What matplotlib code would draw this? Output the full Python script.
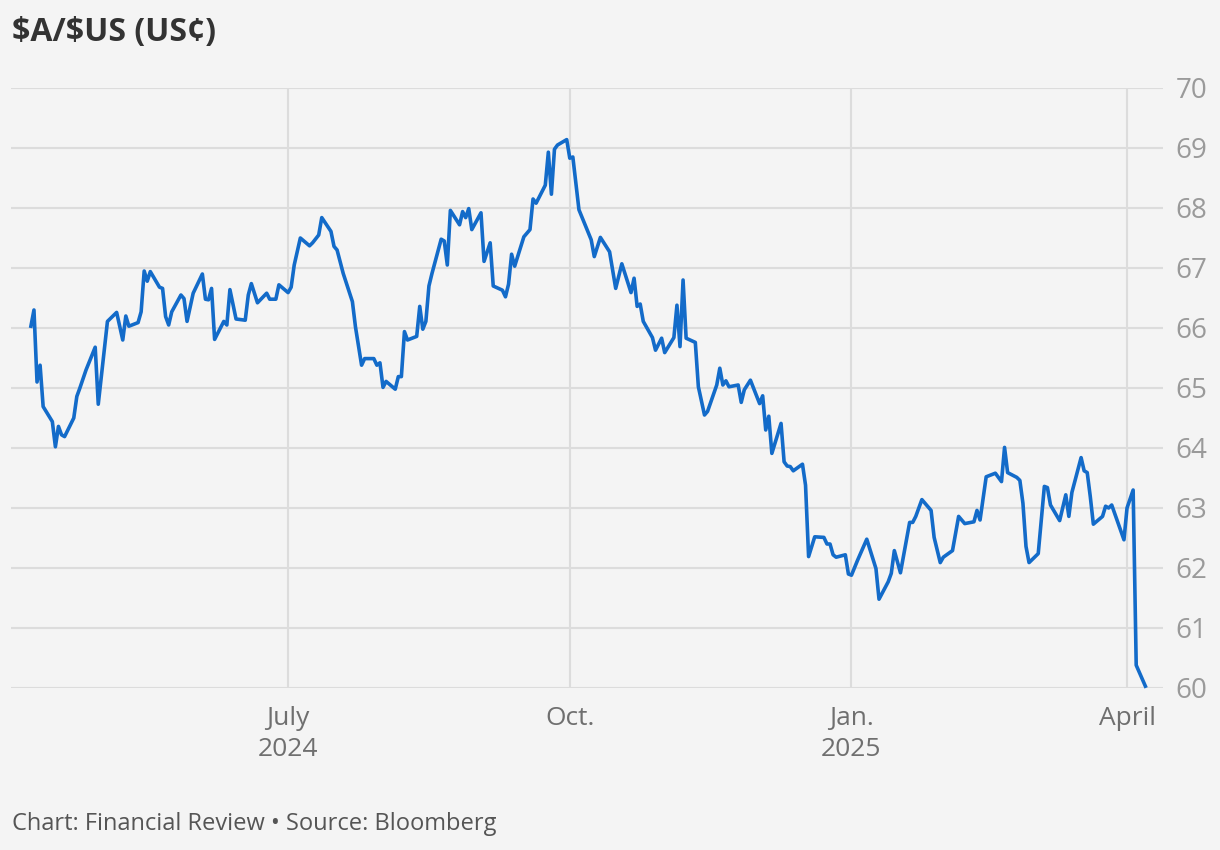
import matplotlib
matplotlib.use("Agg")
import matplotlib.pyplot as plt
import matplotlib.dates as mdates
import numpy as np
import pandas as pd

plt.rcParams['font.family'] = ['Open Sans', 'DejaVu Sans']

# AUD/USD, US cents
dates = [
    "2024-04-08", "2024-04-09", "2024-04-10", "2024-04-11", "2024-04-12", "2024-04-15",
    "2024-04-16", "2024-04-17", "2024-04-18", "2024-04-19", "2024-04-22", "2024-04-23",
    "2024-04-24", "2024-04-26", "2024-04-29", "2024-04-30", "2024-05-03", "2024-05-06",
    "2024-05-08", "2024-05-09", "2024-05-10", "2024-05-13", "2024-05-14", "2024-05-15",
    "2024-05-16", "2024-05-17", "2024-05-20", "2024-05-21", "2024-05-22", "2024-05-23",
    "2024-05-24", "2024-05-27", "2024-05-28", "2024-05-29", "2024-05-31", "2024-06-03",
    "2024-06-04", "2024-06-05", "2024-06-06", "2024-06-07", "2024-06-10", "2024-06-11",
    "2024-06-12", "2024-06-14", "2024-06-17", "2024-06-18", "2024-06-19", "2024-06-21",
    "2024-06-24", "2024-06-25", "2024-06-27", "2024-06-28", "2024-07-01", "2024-07-02",
    "2024-07-03", "2024-07-05", "2024-07-08", "2024-07-09", "2024-07-11", "2024-07-12",
    "2024-07-15", "2024-07-16", "2024-07-17", "2024-07-19", "2024-07-22", "2024-07-23",
    "2024-07-25", "2024-07-26", "2024-07-29", "2024-07-30", "2024-07-31", "2024-08-01",
    "2024-08-02", "2024-08-05", "2024-08-06", "2024-08-07", "2024-08-08", "2024-08-09",
    "2024-08-12", "2024-08-13", "2024-08-14", "2024-08-15", "2024-08-16", "2024-08-17",
    "2024-08-20", "2024-08-21", "2024-08-22", "2024-08-23", "2024-08-26", "2024-08-27",
    "2024-08-28", "2024-08-29", "2024-08-30", "2024-09-02", "2024-09-03", "2024-09-05",
    "2024-09-06", "2024-09-09", "2024-09-10", "2024-09-11", "2024-09-12", "2024-09-13",
    "2024-09-16", "2024-09-18", "2024-09-19", "2024-09-20", "2024-09-23", "2024-09-24",
    "2024-09-25", "2024-09-26", "2024-09-27", "2024-09-30", "2024-10-01", "2024-10-02",
    "2024-10-04", "2024-10-08", "2024-10-09", "2024-10-11", "2024-10-14", "2024-10-16",
    "2024-10-18", "2024-10-21", "2024-10-22", "2024-10-23", "2024-10-24", "2024-10-25",
    "2024-10-28", "2024-10-29", "2024-10-31", "2024-11-01", "2024-11-04", "2024-11-05",
    "2024-11-06", "2024-11-07", "2024-11-08", "2024-11-11", "2024-11-12", "2024-11-14",
    "2024-11-15", "2024-11-18", "2024-11-19", "2024-11-20", "2024-11-21", "2024-11-22",
    "2024-11-25", "2024-11-26", "2024-11-27", "2024-11-29", "2024-12-02", "2024-12-03",
    "2024-12-04", "2024-12-05", "2024-12-06", "2024-12-09", "2024-12-10", "2024-12-11",
    "2024-12-12", "2024-12-13", "2024-12-16", "2024-12-17", "2024-12-18", "2024-12-20",
    "2024-12-23", "2024-12-24", "2024-12-25", "2024-12-26", "2024-12-27", "2024-12-30",
    "2024-12-31", "2025-01-01", "2025-01-03", "2025-01-06", "2025-01-09", "2025-01-10",
    "2025-01-13", "2025-01-14", "2025-01-15", "2025-01-17", "2025-01-20", "2025-01-21",
    "2025-01-22", "2025-01-24", "2025-01-27", "2025-01-28", "2025-01-30", "2025-01-31",
    "2025-02-03", "2025-02-05", "2025-02-07", "2025-02-10", "2025-02-11", "2025-02-12",
    "2025-02-14", "2025-02-17", "2025-02-19", "2025-02-20", "2025-02-21", "2025-02-24",
    "2025-02-25", "2025-02-26", "2025-02-27", "2025-02-28", "2025-03-03", "2025-03-05",
    "2025-03-06", "2025-03-07", "2025-03-10", "2025-03-12", "2025-03-13", "2025-03-14",
    "2025-03-17", "2025-03-18", "2025-03-19", "2025-03-20", "2025-03-21", "2025-03-24",
    "2025-03-25", "2025-03-26", "2025-03-27", "2025-03-31", "2025-04-01", "2025-04-03",
    "2025-04-04", "2025-04-07",
]

values = [
    66.03, 66.30, 65.10, 65.38, 64.69, 64.44, 64.02, 64.36, 64.22, 64.19, 64.50, 64.86,
    65.00, 65.30, 65.68, 64.73, 66.11, 66.26, 65.80, 66.20, 66.03, 66.09, 66.27, 66.95,
    66.78, 66.94, 66.68, 66.66, 66.19, 66.05, 66.27, 66.55, 66.49, 66.11, 66.58, 66.90,
    66.48, 66.47, 66.66, 65.81, 66.11, 66.05, 66.64, 66.15, 66.13, 66.55, 66.74, 66.42,
    66.58, 66.48, 66.48, 66.72, 66.59, 66.68, 67.05, 67.50, 67.37, 67.42, 67.55, 67.84,
    67.61, 67.36, 67.30, 66.91, 66.44, 66.02, 65.38, 65.49, 65.49, 65.38, 65.42, 65.01,
    65.11, 64.98, 65.19, 65.19, 65.94, 65.80, 65.86, 66.36, 65.98, 66.11, 66.70, 66.91,
    67.48, 67.45, 67.05, 67.96, 67.72, 67.94, 67.84, 67.99, 67.64, 67.92, 67.11, 67.42,
    66.70, 66.63, 66.52, 66.73, 67.23, 67.03, 67.52, 67.64, 68.15, 68.08, 68.38, 68.93,
    68.23, 68.98, 69.05, 69.14, 68.83, 68.85, 67.97, 67.47, 67.19, 67.51, 67.27, 66.66,
    67.07, 66.59, 66.83, 66.36, 66.40, 66.11, 65.84, 65.63, 65.83, 65.59, 65.84, 66.38,
    65.69, 66.80, 65.83, 65.76, 65.02, 64.55, 64.61, 65.05, 65.33, 65.05, 65.12, 65.02,
    65.05, 64.76, 64.97, 65.13, 64.74, 64.87, 64.30, 64.53, 63.91, 64.41, 63.77, 63.70,
    63.69, 63.62, 63.73, 63.38, 62.19, 62.52, 62.51, 62.40, 62.40, 62.22, 62.18, 62.22,
    61.90, 61.88, 62.13, 62.48, 61.99, 61.48, 61.77, 61.91, 62.29, 61.92, 62.76, 62.76,
    62.86, 63.14, 62.96, 62.51, 62.09, 62.18, 62.29, 62.86, 62.74, 62.77, 62.96, 62.80,
    63.52, 63.58, 63.44, 64.01, 63.59, 63.51, 63.46, 63.08, 62.36, 62.09, 62.24, 63.36,
    63.34, 63.05, 62.79, 63.22, 62.86, 63.26, 63.84, 63.62, 63.59, 63.19, 62.73, 62.86,
    63.03, 63.00, 63.05, 62.47, 63.00, 63.30, 60.38, 60.03,
]

tick_dates = ["2024-07-01", "2024-10-01", "2025-01-01", "2025-04-01"]
tick_labels = ["July\n2024", "Oct.", "Jan.\n2025", "April"]
y_ticks = list(range(60, 71))

bg = "#f4f4f4"
grid_col = "#dcdcdc"
line_col = "#136bc9"

x = pd.to_datetime(dates)

fig = plt.figure(figsize=(12.2, 8.5), dpi=100, facecolor=bg)
ax = fig.add_axes([11 / 1220, 162 / 850, 1152 / 1220, 600 / 850])
ax.set_facecolor(bg)

ax.plot(x, values, color=line_col, linewidth=2.6, solid_joinstyle="round", zorder=3, clip_on=False)

ax.set_xlim(pd.Timestamp("2024-04-01 12:00"), pd.Timestamp("2025-04-12 18:00"))
ax.set_ylim(60, 70)

ax.set_xticks(pd.to_datetime(tick_dates))
ax.set_xticklabels(tick_labels, fontsize=19, color="#6f6f6f", linespacing=1.3)
ax.set_yticks(y_ticks)
ax.set_yticklabels([str(v) for v in y_ticks], fontsize=20, color="#9a9a9a")

ax.yaxis.tick_right()
ax.tick_params(axis="both", length=0)
ax.tick_params(axis="x", pad=13)
ax.tick_params(axis="y", pad=9)

ax.grid(True, color=grid_col, linewidth=1.5, zorder=0)
for s in ax.spines.values():
    s.set_visible(False)

fig.text(12 / 1220, 1 - 32 / 850, r"\$A/\$US (US¢)", fontsize=23, fontweight="bold",
         color="#333333", va="center", ha="left")
fig.text(12 / 1220, 1 - 824 / 850, "Chart: Financial Review • Source: Bloomberg",
         fontsize=17, color="#555555", va="center", ha="left")

fig.savefig("out.png", dpi=100, facecolor=bg)
